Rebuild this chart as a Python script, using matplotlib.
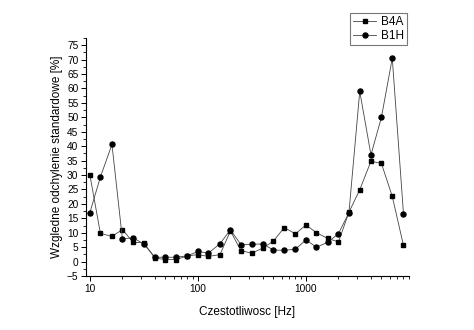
import numpy as np
import matplotlib
matplotlib.use("Agg")
import matplotlib.pyplot as plt
from matplotlib.ticker import MultipleLocator, FixedLocator, FixedFormatter, LogLocator, NullFormatter

plt.rcParams['font.family'] = ['Liberation Sans', 'DejaVu Sans']

# pasma tercjowe [Hz]
freq = [10, 12.5, 16, 20, 25, 31.5, 40, 50, 63, 80, 100, 125, 160, 200, 250,
        315, 400, 500, 630, 800, 1000, 1250, 1600, 2000, 2500, 3150, 4000,
        5000, 6300, 8000]

b4a = [30.0, 9.8, 8.7, 11.1, 6.7, 6.5, 1.2, 0.7, 0.7, 2.0, 2.4, 1.8, 2.4, 10.6,
       3.8, 2.9, 4.7, 7.1, 11.8, 9.6, 12.7, 10.0, 8.0, 6.8, 17.1, 24.9, 34.8,
       34.0, 22.6, 5.6]

b1h = [17.0, 29.3, 40.6, 7.8, 8.3, 6.1, 1.5, 1.5, 1.5, 2.0, 3.5, 2.9, 6.2, 11.0,
       5.9, 6.0, 6.1, 4.0, 3.9, 4.3, 7.5, 5.0, 6.7, 9.7, 16.9, 59.0, 37.0,
       50.0, 70.5, 16.6]

fig = plt.figure(figsize=(4.74, 3.30), dpi=100)
ax = fig.add_axes([86/474, 1 - 276/330, (409 - 86)/474, (276 - 38)/330])

ax.plot(freq, b4a, color='#444444', lw=0.6, marker='s', ms=3.2,
        mfc='black', mec='black', label='B4A')
ax.plot(freq, b1h, color='#444444', lw=0.6, marker='o', ms=3.6,
        mfc='black', mec='black', label='B1H')

ax.set_xscale('log')
ax.set_xlim(9.2, 9000)
ax.set_ylim(-5, 77.5)

ax.xaxis.set_major_locator(FixedLocator([10, 100, 1000]))
ax.xaxis.set_major_formatter(FixedFormatter(['10', '100', '1000']))
ax.xaxis.set_minor_locator(LogLocator(base=10, subs=np.arange(2, 10)))
ax.xaxis.set_minor_formatter(NullFormatter())
ax.yaxis.set_major_locator(MultipleLocator(5))
ax.yaxis.set_minor_locator(MultipleLocator(2.5))

for s in ['top', 'right']:
    ax.spines[s].set_visible(False)
for s in ['left', 'bottom']:
    ax.spines[s].set_linewidth(0.8)

ax.tick_params(which='major', direction='out', length=3.5, width=0.7, labelsize=7.3, pad=2)
ax.tick_params(which='minor', direction='out', length=2, width=0.6)

ax.set_xlabel('Czestotliwosc [Hz]', fontsize=8.5, labelpad=9)
ax.set_ylabel('Wzgledne odchylenie standardowe [%]', fontsize=8.5, labelpad=3)

leg = fig.legend(loc='upper right', bbox_to_anchor=(407/474, 1 - 13/330),
                 fontsize=8.5, frameon=True, fancybox=False, edgecolor='#555555',
                 handlelength=2.0, borderpad=0.25, labelspacing=0.2,
                 handletextpad=0.4, borderaxespad=0)
leg.get_frame().set_linewidth(0.8)

fig.savefig('out.png', dpi=100)
